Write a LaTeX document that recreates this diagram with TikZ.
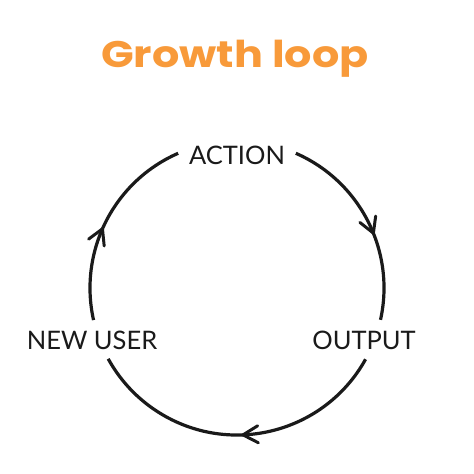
\documentclass[tikz,border=0pt]{standalone}
\usepackage{fontspec}
\setmainfont{Lato}
\newfontfamily\titlefont{Poppins}[UprightFont=* Bold, FakeStretch=1.16]
\usetikzlibrary{decorations.markings,calc}
\definecolor{loopOrange}{HTML}{F89A3A}
\definecolor{loopInk}{HTML}{1A1A1A}
\tikzset{
  lbl/.style={font=\fontsize{25.5}{30}\selectfont, text=loopInk, inner sep=0pt},
  looparc/.style={draw=loopInk, line width=3.2pt},
  chev/.style={postaction={decorate, decoration={markings, mark=at position #1 with {\draw[loopInk, line width=3pt, line cap=round, line join=miter] (-15pt,8.5pt) -- (0,0) -- (-15pt,-8.5pt);}}}}
}
\begin{document}
\begin{tikzpicture}[x=1pt,y=1pt]
\useasboundingbox (0,0) rectangle (474,474);
\coordinate (c) at (237,186);
\node[font=\titlefont\fontsize{37}{42}\selectfont, text=loopOrange, anchor=base, inner sep=0pt] (title) at (235,406) {Growth loop};
\node[lbl] (action) at (237,319) {ACTION};
\node[lbl] (output) at (364,134) {OUTPUT};
\node[lbl] (newuser) at (92,134) {NEW USER};
\coordinate (a1) at ($(c)+(66.4:147)$);
\coordinate (a2) at ($(c)+(-29:147)$);
\coordinate (a3) at ($(c)+(192.6:147)$);
\path[looparc, chev=0.564] (a1) arc[start angle=66.4, end angle=-12.5, radius=147];
\path[looparc, chev=0.48] (a2) arc[start angle=-29, end angle=-151.2, radius=147];
\path[looparc, chev=0.46] (a3) arc[start angle=192.6, end angle=113.6, radius=147];
\end{tikzpicture}
\end{document}
